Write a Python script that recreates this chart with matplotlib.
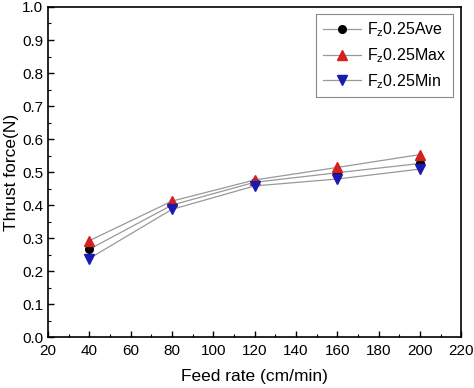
import numpy as np
import matplotlib
matplotlib.use("Agg")
import matplotlib.pyplot as plt
from matplotlib.ticker import MultipleLocator

plt.rcParams['font.family'] = ['Liberation Sans', 'DejaVu Sans']
plt.rcParams['mathtext.fontset'] = 'custom'
plt.rcParams['mathtext.rm'] = 'Liberation Sans'
plt.rcParams['mathtext.it'] = 'Liberation Sans'

# Data
feed_rate = [40, 80, 120, 160, 200]
thrust_ave = [0.266, 0.400, 0.469, 0.498, 0.526]
thrust_max = [0.292, 0.412, 0.476, 0.514, 0.553]
thrust_min = [0.238, 0.387, 0.458, 0.479, 0.509]

fig = plt.figure(figsize=(4.74, 3.88), dpi=100)
ax = fig.add_axes([0.101, 0.131, 0.872, 0.851])

line_kw = dict(color="#999999", linewidth=0.9)
ax.plot(feed_rate, thrust_ave, marker="o", markersize=5.5, markerfacecolor="black",
        markeredgecolor="black", label=r"$\mathrm{F_z}$0.25Ave", **line_kw)
ax.plot(feed_rate, thrust_max, marker="^", markersize=6.5, markerfacecolor="#d42020",
        markeredgecolor="#d42020", label=r"$\mathrm{F_z}$0.25Max", **line_kw)
ax.plot(feed_rate, thrust_min, marker="v", markersize=6.5, markerfacecolor="#1a1ab0",
        markeredgecolor="#1a1ab0", label=r"$\mathrm{F_z}$0.25Min", **line_kw)

ax.set_xlim(20, 220)
ax.set_ylim(0, 1.0)
ax.xaxis.set_major_locator(MultipleLocator(20))
ax.xaxis.set_minor_locator(MultipleLocator(10))
ax.yaxis.set_major_locator(MultipleLocator(0.1))
ax.yaxis.set_minor_locator(MultipleLocator(0.05))
ax.yaxis.set_major_formatter(matplotlib.ticker.FormatStrFormatter("%.1f"))
ax.tick_params(which="both", direction="in", top=False, right=False, labelsize=11)
ax.tick_params(axis="x", pad=5)
ax.tick_params(which="major", length=4, width=1)
ax.tick_params(which="minor", length=2.3, width=0.8)
for s in ax.spines.values():
    s.set_linewidth(1.2)

ax.set_xlabel("Feed rate (cm/min)", fontsize=12.5, labelpad=8)
ax.set_ylabel("Thrust force(N)", fontsize=12.5, labelpad=2)

leg = ax.legend(loc="upper right", bbox_to_anchor=(0.98, 0.979), fontsize=11.5,
                fancybox=False, edgecolor="#888888", framealpha=1,
                handlelength=2.4, handletextpad=0.4, borderpad=0.4,
                labelspacing=0.45, borderaxespad=0)
leg.get_frame().set_linewidth(0.8)

plt.savefig("out.png", dpi=100)
